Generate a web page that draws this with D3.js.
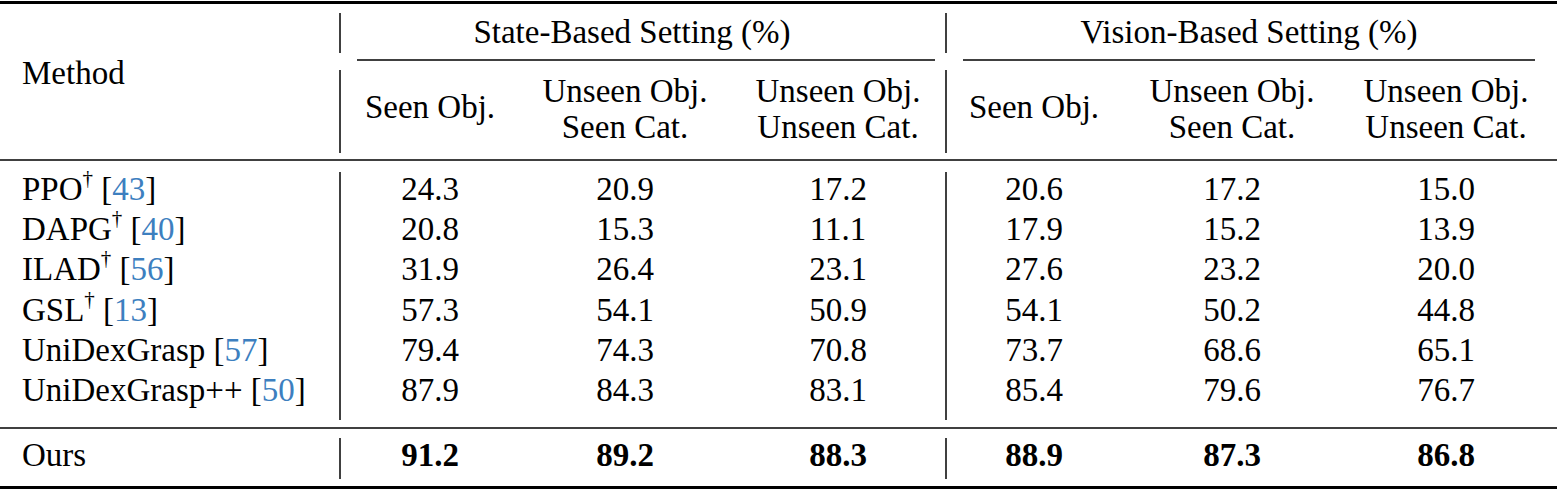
<!DOCTYPE html>
<html><head><meta charset="utf-8">
<script src="https://cdn.jsdelivr.net/npm/d3@7"></script>
<style>body{margin:0;background:#fff} svg text{font-family:"Liberation Serif","Times New Roman",serif}</style></head>
<body><svg id="c" width="1557" height="491"></svg>
<script>
const methods = ["PPO", "DAPG", "ILAD", "GSL", "UniDexGrasp", "UniDexGrasp++"];
const refs = ["43", "40", "56", "13", "57", "50"];
const dagger = [true, true, true, true, false, false];
const groups = ["State-Based Setting (%)", "Vision-Based Setting (%)"];
const subHeaders = [["Seen Obj."], ["Unseen Obj.", "Seen Cat."], ["Unseen Obj.", "Unseen Cat."]];
const values = [
  [24.3, 20.9, 17.2, 20.6, 17.2, 15.0],
  [20.8, 15.3, 11.1, 17.9, 15.2, 13.9],
  [31.9, 26.4, 23.1, 27.6, 23.2, 20.0],
  [57.3, 54.1, 50.9, 54.1, 50.2, 44.8],
  [79.4, 74.3, 70.8, 73.7, 68.6, 65.1],
  [87.9, 84.3, 83.1, 85.4, 79.6, 76.7]
];
const ours = [91.2, 89.2, 88.3, 88.9, 87.3, 86.8];

const svg = d3.select("#c");
const fs = 33;
const cx = [430, 625, 838, 1034, 1232, 1446];
const rowY = d3.scaleLinear().domain([0, 5]).range([189, 390]);

function line(x1, y1, x2, y2, w) {
  svg.append("line").attr("x1", x1).attr("y1", y1).attr("x2", x2).attr("y2", y2)
    .attr("stroke", "#000").attr("stroke-width", w);
}
function text(x, y, s, anchor, bold) {
  return svg.append("text").attr("x", x).attr("y", y).attr("text-anchor", anchor)
    .attr("dominant-baseline", "central").style("font-size", fs + "px")
    .style("font-weight", bold ? "bold" : "normal").attr("fill", "#000").text(s);
}
line(0, 2.5, 1557, 2.5, 3);
line(0, 160, 1557, 160, 1.6);
line(0, 428, 1557, 428, 1.6);
line(0, 487.5, 1557, 487.5, 3);
line(357, 60, 935, 60, 1.3);
line(963, 60, 1535, 60, 1.3);
[340, 946].forEach(x => {
  line(x, 13, x, 53, 1.5);
  line(x, 70, x, 153, 1.5);
  line(x, 172, x, 420, 1.5);
  line(x, 438, x, 479, 1.5);
});
text(22, 73, "Method", "start");
text(632, 32, groups[0], "middle");
text(1249, 32, groups[1], "middle");
for (let g = 0; g < 2; g++) {
  subHeaders.forEach((h, j) => {
    const x = cx[g * 3 + j];
    if (h.length === 1) text(x, 107, h[0], "middle");
    else { text(x, 91, h[0], "middle"); text(x, 127, h[1], "middle"); }
  });
}
methods.forEach((m, i) => {
  const y = rowY(i);
  const t = text(22, y, m, "start");
  if (dagger[i]) t.append("tspan").attr("dy", -11).style("font-size", "21px").text("†");
  t.append("tspan").attr("dy", dagger[i] ? 11 : 0).text(" [");
  t.append("tspan").attr("fill", "#3d7fbf").text(refs[i]);
  t.append("tspan").text("]");
  values[i].forEach((v, j) => text(cx[j], y, v.toFixed(1), "middle"));
});
text(22, 455, "Ours", "start");
ours.forEach((v, j) => text(cx[j], 455, v.toFixed(1), "middle", true));
</script></body></html>
